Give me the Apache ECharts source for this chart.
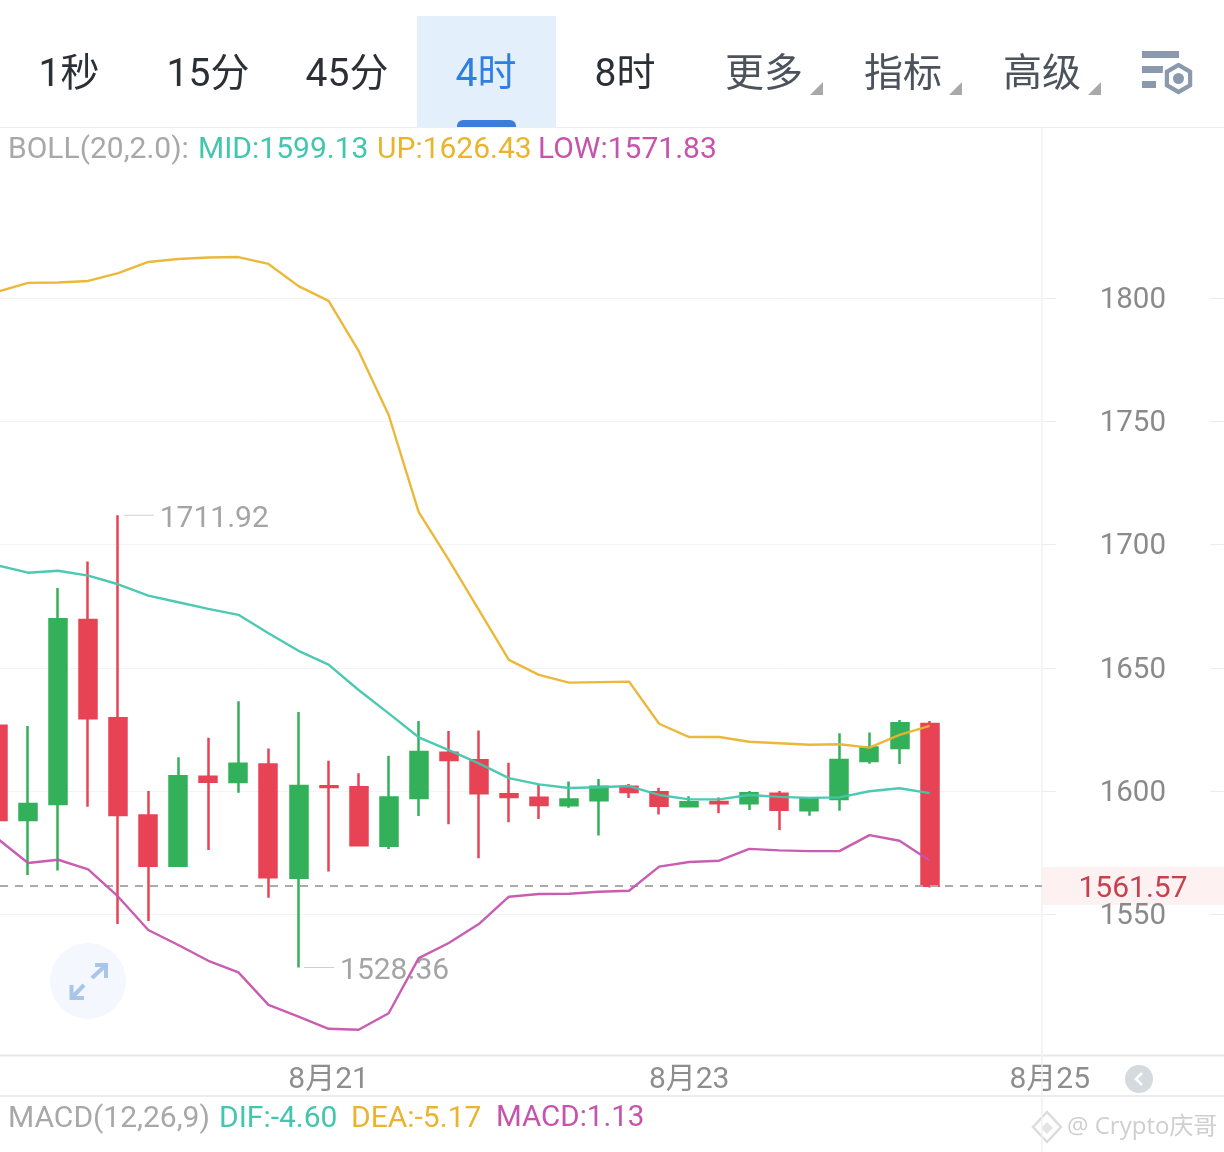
<!DOCTYPE html>
<html>
<head>
<meta charset="utf-8">
<style>html,body{margin:0;padding:0;background:#fff}#c{width:1224px;height:1152px}</style>
<script src="https://cdn.jsdelivr.net/npm/echarts@6/dist/echarts.min.js"></script>
</head>
<body>
<div id="c"></div>
<script>
const categories = ['', '', '', '', '', '', '', '', '', '', '', '8月21', '', '', '', '', '', '', '', '', '', '', '', '8月23', '', '', '', '', '', '', '', '', '', '', '', '8月25'];
// open, close, low, high
const candles = [
  [1626.5,1588.2,1588.2,1626.5],[1588.2,1594.7,1565.9,1626.4],[1594.7,1669.7,1567.7,1682.4],[1669.4,1629.5,1593.6,1693.1],
  [1629.5,1590.3,1546.0,1711.92],[1590.1,1569.7,1547.2,1600.0],[1569.7,1606.0,1569.7,1613.7],[1605.8,1603.8,1576.1,1621.6],
  [1603.7,1611.1,1599.3,1636.4],[1610.8,1565.0,1556.7,1617.2],[1564.8,1602.0,1528.36,1632.1],[1601.9,1601.6,1567.3,1612.3],
  [1601.5,1578.0,1578.0,1607.2],[1577.8,1597.4,1576.5,1614.3],[1597.2,1615.8,1589.9,1628.4],[1615.5,1612.6,1586.5,1624.4],
  [1612.5,1599.1,1572.7,1624.6],[1598.7,1597.6,1587.3,1611.5],[1597.3,1594.3,1588.6,1602.4],[1594.2,1596.5,1593.2,1603.9],
  [1596.2,1601.7,1581.9,1604.9],[1601.7,1599.6,1597.2,1602.8],[1599.5,1594.0,1590.5,1601.3],[1593.8,1595.4,1593.4,1597.9],
  [1595.5,1595.0,1591.0,1597.4],[1595.0,1599.1,1592.3,1600.0],[1598.9,1592.4,1584.2,1600.0],[1592.2,1596.9,1590.0,1596.9],
  [1596.8,1612.6,1592.0,1623.4],[1612.2,1617.7,1611.1,1623.7],[1617.5,1627.5,1611.0,1628.8],[1627.2,1561.57,1560.8,1628.4]
];
const bollUp = [1802.7,1806.2,1806.4,1807.0,1810.2,1814.7,1815.9,1816.5,1816.7,1813.9,1804.9,1798.9,1778.6,1752.6,1713.2,1693.8,1673.5,1653.2,1647.1,1644.0,1644.2,1644.4,1627.3,1621.9,1621.9,1620.0,1619.4,1618.8,1619.0,1617.6,1622.8,1626.43];
const bollMid = [1691.5,1688.6,1689.4,1687.4,1683.9,1679.3,1676.6,1673.9,1671.5,1664.0,1656.9,1651.3,1641.0,1631.5,1621.8,1616.6,1611.2,1605.2,1602.7,1601.2,1601.5,1602.0,1598.4,1596.6,1596.6,1598.4,1597.6,1597.2,1597.4,1599.9,1601.1,1599.13];
const bollLow = [1580.5,1570.8,1572.1,1568.2,1557.1,1543.6,1537.5,1531.1,1526.4,1513.2,1508.4,1503.5,1503.1,1509.8,1532.2,1538.3,1546.0,1557.1,1558.2,1558.3,1559.1,1559.5,1569.3,1571.2,1571.7,1576.5,1575.9,1575.6,1575.6,1582.1,1579.8,1571.83];
const lastPrice = 1561.57;
const highPoint = [4, 1711.92];
const lowPoint = [10, 1528.36];
const tabs = ['1秒', '15分', '45分', '4时', '8时'];
const menus = ['更多', '指标', '高级'];
const bollCaption = ['BOLL(20,2.0):', 'MID:1599.13', 'UP:1626.43', 'LOW:1571.83'];
const macdCaption = ['MACD(12,26,9)', 'DIF:-4.60', 'DEA:-5.17', 'MACD:1.13'];

const RED='#e84354', GREEN='#33b15a', TEAL='#43c6ae', YELLOW='#eab42f', PINK='#c654ad', GREY='#a8a8a8';
const SANS='Roboto, "Noto Sans CJK SC", sans-serif';
const yMin=1500, yMax=1850, gridTop=175, gridH=862.4;

const grids=[
  {left:-17,top:gridTop,width:1081.8,height:gridH,outerBoundsMode:'none'},
  {left:0,top:gridTop,width:1042,height:gridH,outerBoundsMode:'none'},
  {left:1042,top:gridTop,width:14,height:gridH,outerBoundsMode:'none'},
  {left:1210,top:gridTop,width:14,height:gridH,outerBoundsMode:'none'}
];
const yBase=(i,line,label)=>({type:'value',gridIndex:i,position:'left',min:yMin,max:yMax,interval:50,
  axisLine:{show:false},axisTick:{show:false},
  splitLine:{show:true,showMinLine:false,showMaxLine:false,lineStyle:{color:line,width:1}},
  axisLabel:label});
const xHidden=i=>({type:'value',gridIndex:i,min:0,max:1,show:false});

const els=[];
const addLine=(x1,y1,x2,y2,c,w)=>els.push({type:'line',silent:true,z:1,shape:{x1,y1,x2,y2},style:{stroke:c,lineWidth:w||1}});
addLine(0,127.5,1224,127.5,'#eeeeee');
addLine(0,1055.5,1224,1055.5,'#e8e8e8',2);
addLine(0,1096,1224,1096,'#ececec',2);
addLine(1042,128,1042,1152,'#f0f0f0',1.5);
// active tab
els.push({type:'rect',silent:true,shape:{x:417,y:16,width:139,height:111},style:{fill:'#e4effc'}});
els.push({type:'rect',silent:true,shape:{x:457,y:120,width:59,height:7,r:[6,6,0,0]},style:{fill:'#3b7ddb'}});
const tabX=[69,208,347,486,625];
tabs.forEach((t,i)=>els.push({type:'text',silent:true,style:{text:t,x:tabX[i],y:76,align:'center',verticalAlign:'middle',fill:i===3?'#2f7fe0':'#2b2f36',font:'39px '+SANS}}));
const menuX=[764,903,1042], triX=[810,949,1088];
menus.forEach((t,i)=>{
  els.push({type:'text',silent:true,style:{text:t,x:menuX[i],y:76,align:'center',verticalAlign:'middle',fill:'#4d535c',font:'39px '+SANS}});
  els.push({type:'polygon',silent:true,shape:{points:[[triX[i]+13,82],[triX[i]+13,95],[triX[i],95]]},style:{fill:'#a9a9a9'}});
});
// settings icon
[[1142,51,37],[1142,66,21],[1142,81,14]].forEach(r=>els.push({type:'rect',silent:true,shape:{x:r[0],y:r[1],width:r[2],height:7},style:{fill:'#8a99ad'}}));
const hex=(cx,cy,r)=>[0,1,2,3,4,5].map(k=>[cx+r*Math.sin(k*Math.PI/3),cy-r*Math.cos(k*Math.PI/3)]);
els.push({type:'polygon',silent:true,shape:{points:hex(1178.5,78.5,17)},style:{fill:'#8a99ad',stroke:'#fff',lineWidth:2}});
els.push({type:'polygon',silent:true,shape:{points:hex(1178.5,78.5,11)},style:{fill:'#fff'}});
els.push({type:'circle',silent:true,shape:{cx:1178.5,cy:78.5,r:5.5},style:{fill:'#8a99ad'}});
// indicator captions
const capColors=[GREY,TEAL,YELLOW,PINK];
const bollX=[8,198,377,538], macdX=[8,219,351,496];
bollCaption.forEach((t,i)=>els.push({type:'text',silent:true,style:{text:t,x:bollX[i],y:150,verticalAlign:'middle',fill:capColors[i],font:'30px '+SANS}}));
macdCaption.forEach((t,i)=>els.push({type:'text',silent:true,style:{text:t,x:macdX[i],y:1119,verticalAlign:'middle',fill:capColors[i],font:(i===3?'29.5px ':'30px ')+SANS}}));
// price tag
els.push({type:'rect',silent:true,z:-1,shape:{x:1042,y:867,width:182,height:38},style:{fill:'#fdf1f1'}});
els.push({type:'text',silent:true,z:5,style:{text:lastPrice.toFixed(2),x:1133,y:889,align:'center',verticalAlign:'middle',fill:'#c8404e',font:'30px '+SANS}});
// expand button
els.push({type:'circle',silent:true,shape:{cx:88,cy:981,r:38},style:{fill:'#f4f8fe'}});
[[[95,965],[106,965],[106,978]],[[92,978],[106,965]],[[71.5,985],[71.5,998],[84,998]],[[71.5,998],[84,985]]].forEach(p=>
  els.push({type:'polyline',silent:true,shape:{points:p},style:{stroke:'#a9c5ea',lineWidth:4,fill:null}}));
// scroll button
els.push({type:'circle',silent:true,shape:{cx:1139,cy:1079,r:14},style:{fill:'#d5dade'}});
els.push({type:'polyline',silent:true,shape:{points:[[1142,1073],[1136,1079],[1142,1085]]},style:{stroke:'#fff',lineWidth:2.5,fill:null}});
// watermark
els.push({type:'polygon',silent:true,shape:{points:[[1047,1112],[1061,1127],[1047,1142],[1033,1127]]},style:{fill:'none',stroke:'#dcdcdc',lineWidth:2.5}});
els.push({type:'polygon',silent:true,shape:{points:[[1047,1122],[1053,1128],[1047,1134],[1041,1128]]},style:{fill:'#e4e4e4'}});
els.push({type:'text',silent:true,style:{text:'@ Crypto庆哥',x:1067,y:1127,verticalAlign:'middle',fill:'#cfcfcf',font:'24px "Open Sans","Noto Sans CJK SC",sans-serif'}});

const extLabel=v=>({show:true,formatter:'{l|}{v|'+v.toFixed(2)+'}',position:'right',distance:5,
  rich:{l:{width:30,height:1,backgroundColor:'#cfcfcf'},v:{color:'#a4a4a4',fontSize:30,fontFamily:SANS,padding:[8,0,0,6]}}});

const lineSeries=(name,data,color)=>({name,type:'line',data,symbol:'none',smooth:false,silent:true,z:6,clip:true,lineStyle:{color,width:2.4,opacity:0.95}});

echarts.init(document.getElementById('c'),null,{renderer:'canvas'}).setOption({
  animation:false,backgroundColor:'#fff',
  tooltip:{show:false},
  grid:grids,
  xAxis:[
    {type:'category',gridIndex:0,data:categories,boundaryGap:true,offset:18,
     axisLine:{show:false},axisTick:{show:false},splitLine:{show:false},
     axisLabel:{interval:0,margin:10,color:'#8e8e8e',fontSize:30,fontFamily:SANS,hideOverlap:false}},
    xHidden(1),xHidden(2),xHidden(3)
  ],
  yAxis:[
    {type:'value',gridIndex:0,position:'right',min:yMin,max:yMax,interval:50,show:false},
    yBase(1,'#f4f4f4',{show:false}),
    yBase(2,'#ececec',{show:false}),
    yBase(3,'#ececec',{show:true,showMinLabel:false,showMaxLabel:false,margin:44,color:'#8a8a8a',fontSize:29.5,fontFamily:SANS,verticalAlign:'top',lineHeight:5,formatter:v=>String(v)})
  ],
  series:[
    {type:'candlestick',name:'K',data:candles,barWidth:17.5,clip:true,z:3,silent:true,
     itemStyle:{color:GREEN,color0:RED,borderColor:GREEN,borderColor0:RED,borderWidth:2.5},
     markPoint:{silent:true,symbol:'circle',symbolSize:1,animation:false,itemStyle:{color:'transparent'},data:[
       {coord:highPoint,label:extLabel(highPoint[1])},
       {coord:lowPoint,label:extLabel(lowPoint[1])}
     ]}},
    lineSeries('MID',bollMid,TEAL),
    lineSeries('UP',bollUp,YELLOW),
    lineSeries('LOW',bollLow,PINK),
    {type:'line',xAxisIndex:1,yAxisIndex:1,data:[],z:7,silent:true,
     markLine:{silent:true,symbol:'none',animation:false,label:{show:false},
       lineStyle:{type:[8,7],color:'#ababab',width:2},data:[{yAxis:lastPrice}]}}
  ],
  graphic:{elements:els}
});
</script>
</body>
</html>
